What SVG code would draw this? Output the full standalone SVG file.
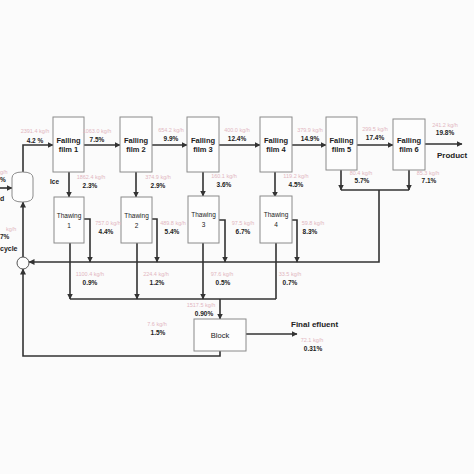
<svg xmlns="http://www.w3.org/2000/svg" width="474" height="474" viewBox="0 0 474 474">
<style>
.bg{fill:#fbfbfb}
.box{fill:#fdfdfd;stroke:#8a8a8a;stroke-width:1}
.ln{fill:none;stroke:#333;stroke-width:1.6}
.lbl{font-family:"Liberation Sans",Arial,sans-serif;font-size:7.5px;font-weight:bold;fill:#222;text-anchor:middle}
.th{font-family:"Liberation Sans",Arial,sans-serif;font-size:6.5px;fill:#222;text-anchor:middle}
.pc{font-family:"Liberation Sans",Arial,sans-serif;font-size:6.5px;font-weight:bold;fill:#222;text-anchor:middle}
.pk{font-family:"Liberation Sans",Arial,sans-serif;font-size:5.5px;fill:#e2b6bf;text-anchor:middle}
.big{font-family:"Liberation Sans",Arial,sans-serif;font-size:8px;font-weight:bold;fill:#222}
</style>
<defs>
<marker id="ah" markerWidth="6" markerHeight="6" refX="5.5" refY="3" orient="auto" markerUnits="userSpaceOnUse">
<path d="M0,0 L6,3 L0,6 Z" fill="#333"/>
</marker>
</defs>
<rect class="bg" x="0" y="0" width="474" height="474"/>

<g id="connectors">
<!-- feed into vessel -->
<path class="ln" d="M0,188 L12,188" marker-end="url(#ah)"/>
<!-- vessel to FF1 -->
<path class="ln" d="M23,172 L23,145 L53,145" marker-end="url(#ah)"/>
<!-- top chain -->
<path class="ln" d="M84,145 L120,145" marker-end="url(#ah)"/>
<path class="ln" d="M152,145 L187,145" marker-end="url(#ah)"/>
<path class="ln" d="M219,145 L260,145" marker-end="url(#ah)"/>
<path class="ln" d="M292,145 L326,145" marker-end="url(#ah)"/>
<path class="ln" d="M357,145 L393,145" marker-end="url(#ah)"/>
<path class="ln" d="M425,144 L462,144" marker-end="url(#ah)"/>
<!-- FF to thawing -->
<path class="ln" d="M69,172 L69,197" marker-end="url(#ah)"/>
<path class="ln" d="M136,172 L136,197" marker-end="url(#ah)"/>
<path class="ln" d="M203,172 L203,196" marker-end="url(#ah)"/>
<path class="ln" d="M275,172 L275,197" marker-end="url(#ah)"/>
<!-- FF5, FF6 bottoms -->
<path class="ln" d="M341,170 L341,190" marker-end="url(#ah)"/>
<path class="ln" d="M409,170 L409,190" marker-end="url(#ah)"/>
<path class="ln" d="M341,190 L409,190"/>
<path class="ln" d="M379,190 L379,262 L29,262" marker-end="url(#ah)"/>
<!-- thawing side outlets -->
<path class="ln" d="M84,219 L90,219 L90,262" marker-end="url(#ah)"/>
<path class="ln" d="M152,219 L157,219 L157,262" marker-end="url(#ah)"/>
<path class="ln" d="M219,220 L225,220 L225,262" marker-end="url(#ah)"/>
<path class="ln" d="M292,220 L297,220 L297,262" marker-end="url(#ah)"/>
<!-- thawing bottoms -->
<path class="ln" d="M70,243 L70,299" marker-end="url(#ah)"/>
<path class="ln" d="M137,243 L137,299" marker-end="url(#ah)"/>
<path class="ln" d="M203,243 L203,299" marker-end="url(#ah)"/>
<path class="ln" d="M276,243 L276,299"/>
<path class="ln" d="M70,299 L276,299"/>
<path class="ln" d="M220,299 L220,319" marker-end="url(#ah)"/>
<!-- block outlets -->
<path class="ln" d="M246,334 L297,334" marker-end="url(#ah)"/>
<path class="ln" d="M220,351 L220,356 L23,356 L23,269" marker-end="url(#ah)"/>
<!-- cycle to vessel -->
<path class="ln" d="M23,257 L23,202" marker-end="url(#ah)"/>
</g>

<g id="vessel">
<path class="box" d="M12,178 Q12,172 22.5,172 Q33,172 33,178 L33,196 Q33,202 22.5,202 Q12,202 12,196 Z" stroke="#555"/>
</g>
<g id="mixer">
<circle cx="23" cy="263" r="6" fill="#fdfdfd" stroke="#555" stroke-width="1"/>
</g>

<g id="ff1"><rect class="box" x="53" y="117" width="31" height="55"/><text class="lbl" x="68.5" y="143">Falling</text><text class="lbl" x="68.5" y="152">film 1</text></g>
<g id="ff2"><rect class="box" x="120" y="117" width="32" height="55"/><text class="lbl" x="136" y="143">Falling</text><text class="lbl" x="136" y="152">film 2</text></g>
<g id="ff3"><rect class="box" x="187" y="117" width="32" height="55"/><text class="lbl" x="203" y="143">Falling</text><text class="lbl" x="203" y="152">film 3</text></g>
<g id="ff4"><rect class="box" x="260" y="117" width="32" height="55"/><text class="lbl" x="276" y="143">Falling</text><text class="lbl" x="276" y="152">film 4</text></g>
<g id="ff5"><rect class="box" x="326" y="117" width="31" height="53"/><text class="lbl" x="341.5" y="143">Falling</text><text class="lbl" x="341.5" y="152">film 5</text></g>
<g id="ff6"><rect class="box" x="393" y="119" width="32" height="51"/><text class="lbl" x="409" y="143">Falling</text><text class="lbl" x="409" y="152">film 6</text></g>

<g id="th1"><rect class="box" x="54" y="197" width="30" height="46"/><text class="th" x="69" y="218">Thawing</text><text class="th" x="69" y="228">1</text></g>
<g id="th2"><rect class="box" x="121" y="197" width="31" height="46"/><text class="th" x="136.5" y="218">Thawing</text><text class="th" x="136.5" y="228">2</text></g>
<g id="th3"><rect class="box" x="188" y="196" width="31" height="47"/><text class="th" x="203.5" y="217">Thawing</text><text class="th" x="203.5" y="227">3</text></g>
<g id="th4"><rect class="box" x="260" y="196" width="32" height="47"/><text class="th" x="276" y="217">Thawing</text><text class="th" x="276" y="227">4</text></g>

<g id="block"><rect class="box" x="194" y="319" width="52" height="32"/><text class="th" x="220" y="338" style="font-size:7.5px">Block</text></g>

<g id="labels">
<text class="pk" x="35" y="133">2391.4 kg/h</text><text class="pc" x="35" y="143">4.2 %</text>
<text class="pk" x="97" y="133">1063.0 kg/h</text><text class="pc" x="97" y="142">7.5%</text>
<text class="pk" x="171" y="132">654.2 kg/h</text><text class="pc" x="171" y="141">9.9%</text>
<text class="pk" x="237" y="132">400.0 kg/h</text><text class="pc" x="237" y="141">12.4%</text>
<text class="pk" x="310" y="132">379.9 kg/h</text><text class="pc" x="310" y="141">14.9%</text>
<text class="pk" x="375" y="131">299.5 kg/h</text><text class="pc" x="375" y="140">17.4%</text>
<text class="pk" x="445" y="127">241.2 kg/h</text><text class="pc" x="445" y="135">19.8%</text>
<text class="big" x="437" y="158">Product</text>

<text class="big" x="50" y="184" style="font-size:6.5px">Ice</text>
<text class="pk" x="91" y="179">1862.4 kg/h</text><text class="pc" x="90" y="188">2.3%</text>
<text class="pk" x="158" y="179">374.9 kg/h</text><text class="pc" x="158" y="188">2.9%</text>
<text class="pk" x="224" y="178">160.1 kg/h</text><text class="pc" x="224" y="187">3.6%</text>
<text class="pk" x="296" y="178">119.2 kg/h</text><text class="pc" x="296" y="187">4.5%</text>
<text class="pk" x="361" y="175">80.4 kg/h</text><text class="pc" x="362" y="183">5.7%</text>
<text class="pk" x="428" y="175">85.3 kg/h</text><text class="pc" x="429" y="183">7.1%</text>

<text class="pk" x="108" y="225">757.0 kg/h</text><text class="pc" x="106" y="234">4.4%</text>
<text class="pk" x="173" y="225">489.8 kg/h</text><text class="pc" x="172" y="234">5.4%</text>
<text class="pk" x="243" y="225">97.5 kg/h</text><text class="pc" x="243" y="234">6.7%</text>
<text class="pk" x="313" y="225">59.8 kg/h</text><text class="pc" x="310" y="234">8.3%</text>

<text class="pk" x="90" y="276">1100.4 kg/h</text><text class="pc" x="90" y="285">0.9%</text>
<text class="pk" x="156" y="276">224.4 kg/h</text><text class="pc" x="157" y="285">1.2%</text>
<text class="pk" x="222" y="276">97.6 kg/h</text><text class="pc" x="223" y="285">0.5%</text>
<text class="pk" x="290" y="276">33.5 kg/h</text><text class="pc" x="290" y="285">0.7%</text>
<text class="pk" x="201" y="307">1517.5 kg/h</text><text class="pc" x="204" y="316">0.90%</text>
<text class="pk" x="157" y="326">7.6 kg/h</text><text class="pc" x="158" y="335">1.5%</text>
<text class="big" x="291" y="327">Final efluent</text>
<text class="pk" x="312" y="342">72.1 kg/h</text><text class="pc" x="313" y="351">0.31%</text>

<text class="pk" x="0" y="174" style="text-anchor:start">g/h</text>
<text class="pc" x="0" y="182" style="text-anchor:start">%</text>
<text class="big" x="0" y="201" style="font-size:7px">d</text>
<text class="pk" x="6" y="231" style="text-anchor:start">kg/h</text>
<text class="pc" x="0" y="239" style="text-anchor:start">7%</text>
<text class="big" x="0" y="251" style="font-size:7px">cycle</text>
</g>
</svg>
